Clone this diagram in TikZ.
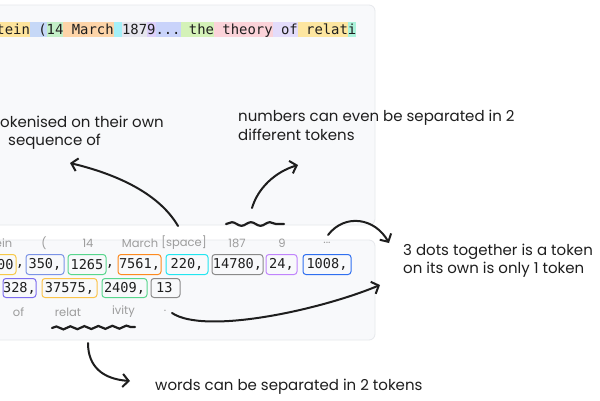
\documentclass[tikz,border=0pt]{standalone}
\usepackage{fontspec}
\setmainfont{Poppins}
\newfontfamily\mono{DejaVu Sans Mono}
\newfontfamily\hand{Poppins}
\usetikzlibrary{arrows.meta,decorations.pathmorphing}
\definecolor{panelfill}{HTML}{F8F9FB}
\definecolor{panelline}{HTML}{E6E8EC}
\definecolor{hTein}{HTML}{FDE49C}
\definecolor{hParen}{HTML}{C6D8F7}
\definecolor{hFourteen}{HTML}{C3EFC7}
\definecolor{hMarch}{HTML}{FDD4A8}
\definecolor{hSpace}{HTML}{A5F0F8}
\definecolor{hOneEight}{HTML}{E6E6EE}
\definecolor{hNine}{HTML}{DDD0FA}
\definecolor{hDots}{HTML}{C9D3FA}
\definecolor{hThe}{HTML}{D4F2B8}
\definecolor{hTheory}{HTML}{FBD3D9}
\definecolor{hOf}{HTML}{E3DCFA}
\definecolor{hRelat}{HTML}{FDE6A0}
\definecolor{hI}{HTML}{ABF2DA}
\definecolor{bYellow}{HTML}{F7C948}
\definecolor{bCorn}{HTML}{7B93E6}
\definecolor{bGreen}{HTML}{58D68D}
\definecolor{bOrange}{HTML}{FD8A1F}
\definecolor{bCyan}{HTML}{22E5F0}
\definecolor{bGray}{HTML}{8A8A8A}
\definecolor{bLilac}{HTML}{C084FC}
\definecolor{bBlue}{HTML}{2F6FF0}
\definecolor{bIndigo}{HTML}{7C6CF0}
\definecolor{bGold}{HTML}{FBC34A}
\definecolor{labelgray}{HTML}{9C9C9C}
\definecolor{ink}{HTML}{1E1E1E}
\tikzset{
  panel/.style={fill=panelfill, draw=panelline, line width=0.8pt, rounded corners=6pt},
  tok/.style={inner sep=0pt, outer sep=0pt, text height=12.3pt, text depth=3.3pt,
              font=\mono\fontsize{13.9pt}{16pt}\selectfont, text=ink, anchor=base west},
  tb/.style={draw, line width=1pt, rounded corners=3pt, inner xsep=0pt, inner ysep=0pt,
             minimum height=20pt, font=\mono\fontsize{13.6pt}{16pt}\selectfont, text=ink},
  lbl/.style={font=\hand\fontsize{11.5pt}{13pt}\selectfont, text=labelgray, inner sep=0pt},
  note/.style={font=\hand\fontsize{15pt}{18pt}\selectfont, text=ink, inner sep=0pt, anchor=base west},
  sketch/.style={line width=2pt, line cap=round, line join=round, draw=ink,
                 -{Straight Barb[length=6pt,width=13pt]}},
  wave/.style={line width=2.2pt, line cap=round, draw=ink, decorate,
               decoration={snake, segment length=19pt, amplitude=1.8pt}}
}
\begin{document}
\begin{tikzpicture}[x=1pt,y=-1pt]
\useasboundingbox (0,0) rectangle (600,400);
\clip (0,0) rectangle (600,400);
\fill[white] (0,0) rectangle (600,400);

% panels
\draw[panel] (-12,5) rectangle (375,225);
\draw[panel] (-12,240) rectangle (375,340);

% top token strip
\node[tok, fill=hTein] (t1) at (-3.5,34) {tein};
\node[tok, fill=hParen] (t2) at (t1.base east) {\ (};
\node[tok, fill=hFourteen] (t3) at (t2.base east) {14};
\node[tok, fill=hMarch] (t4) at (t3.base east) {\ March};
\node[tok, fill=hSpace] (t5) at (t4.base east) {\phantom{0}};
\node[tok, fill=hOneEight] (t6) at (t5.base east) {187};
\node[tok, fill=hNine] (t7) at (t6.base east) {9};
\node[tok, fill=hDots] (t8) at (t7.base east) {...};
\node[tok, fill=hThe] (t9) at (t8.base east) {\ the};
\node[tok, fill=hTheory] (t10) at (t9.base east) {\ theory};
\node[tok, fill=hOf] (t11) at (t10.base east) {\ of};
\node[tok, fill=hRelat] (t12) at (t11.base east) {\ relat};
\node[tok, fill=hI] (t13) at (t12.base east) {i};

% labels above row 1
\node[lbl, anchor=east] (l1) at (12.5,243) {tein};
\node[lbl] (l2) at (44,243) {(};
\node[lbl] (l3) at (88,243) {14};
\node[lbl] (l4) at (140,243) {March};
\node[lbl] (l5) at (184,243) {[space]};
\node[lbl] (l6) at (237,243) {187};
\node[lbl] (l7) at (282,243) {9};
\node[lbl] (l8) at (327,243) {...};

% row 1 token boxes
\node[tb, draw=bYellow, text width=24pt, align=right, anchor=east, inner xsep=2.5pt] (b1) at (16.5,264.5) {00};
\node[font=\mono\fontsize{13.6pt}{16pt}\selectfont, text=ink, inner sep=0pt] (c1) at (20,266.5) {,};
\node[tb, draw=bCorn, minimum width=38pt] (b2) at (45,264.5) {350,};
\node[tb, draw=bGreen, minimum width=38pt] (b3) at (87,264.5) {1265};
\node[font=\mono\fontsize{13.6pt}{16pt}\selectfont, text=ink, inner sep=0pt] (c3) at (110,266.5) {,};
\node[tb, draw=bOrange, minimum width=43pt] (b4) at (139.5,264.5) {7561,};
\node[tb, draw=bCyan, minimum width=42pt] (b5) at (187,264.5) {220,};
\node[tb, draw=bGray, minimum width=51pt] (b6) at (237.5,264.5) {14780,};
\node[tb, draw=bLilac, minimum width=31pt] (b7) at (281.5,264.5) {24,};
\node[tb, draw=bBlue, minimum width=48pt] (b8) at (327,264.5) {1008,};

% row 2 token boxes
\node[tb, draw=bIndigo, minimum width=33pt, minimum height=19pt] (b9) at (19.5,288) {328,};
\node[tb, draw=bGold, minimum width=55pt, minimum height=19pt] (b10) at (69.5,288) {37575,};
\node[tb, draw=bGreen, minimum width=45pt, minimum height=19pt] (b11) at (124.5,288) {2409,};
\node[tb, draw=bGray, minimum width=29pt, minimum height=19pt] (b12) at (165.5,288) {13\,};

% labels below row 2
\node[lbl] (l9) at (18.5,312) {of};
\node[lbl] (l10) at (68,312) {relat};
\node[lbl] (l11) at (123.5,312) {ivity};
\node[lbl] (l12) at (165,311) {.};

% annotations
\node[note] (n1a) at (0,127.5) {okenised on their own};
\node[note] (n1b) at (8,145) {sequence of};
\node[note] (n2a) at (238,121.7) {numbers can even be separated in 2};
\node[note] (n2b) at (238,140.5) {different tokens};
\node[note] (n3a) at (403,255) {3 dots together is a token};
\node[note] (n3b) at (403,273) {on its own is only 1 token};
\node[note] (n4) at (155,390) {words can be separated in 2 tokens};

% connector end points
\coordinate (a1s) at (178,226);
\coordinate (a1e) at (70,163);
\coordinate (w1s) at (226,224);
\coordinate (w1e) at (284,224);
\coordinate (a2s) at (252,208);
\coordinate (a2e) at (298,165);
\coordinate (a3s) at (328,235);
\coordinate (a3e) at (389,243);
\coordinate (a4s) at (172,313);
\coordinate (a4e) at (380,285);
\coordinate (w2s) at (52,328);
\coordinate (w2e) at (135,327);
\coordinate (a5s) at (88,343);
\coordinate (a5e) at (130,381);

% connectors
\draw[sketch] (a1s) .. controls (160,195) and (120,175) .. (a1e);
\draw[wave] (w1s) -- (w1e);
\draw[sketch] (a2s) .. controls (258,188) and (275,172) .. (a2e);
\draw[sketch] (a3s) .. controls (345,213) and (375,218) .. (a3e);
\draw[sketch] (a4s) .. controls (205,335) and (320,310) .. (a4e);
\draw[wave, decoration={snake, segment length=14pt, amplitude=1.5pt}] (w2s) -- (w2e);
\draw[sketch] (a5s) .. controls (88,366) and (102,379) .. (a5e);
\end{tikzpicture}
\end{document}
